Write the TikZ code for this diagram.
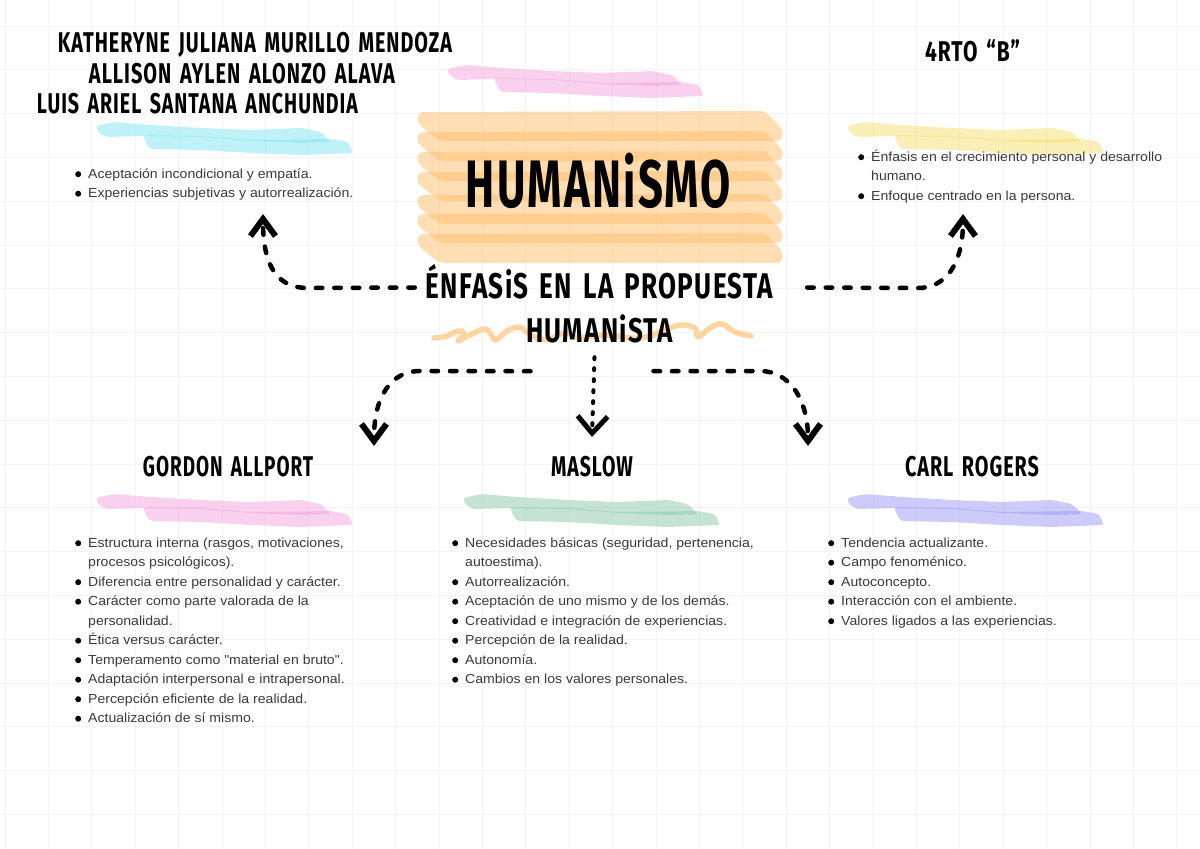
\documentclass[tikz,border=0pt]{standalone}
\usepackage{fontspec}
\usepackage{graphicx}
\usetikzlibrary{arrows.meta,calc}
\newfontfamily\bodyf{Liberation Sans}[FakeStretch=1.07]
\newfontfamily\hand{Fira Sans}[UprightFont=* Bold,LetterSpace=5,WordSpace=1.5]
\newcommand{\fitted}[3]{\resizebox{#1pt}{#2pt}{\hand\fontsize{20}{20}\selectfont\smash{#3}\rule{0pt}{14pt}}}
\newcommand{\bl}{\leavevmode\rule{0pt}{12pt}\llap{\tikz[baseline=-4pt]\fill[black] (0,0) circle [radius=3pt];\hspace{7pt}}}
\newcommand{\nl}{\leavevmode\rule{0pt}{12pt}}
\definecolor{txt}{HTML}{3A3A3A}
\definecolor{gridc}{HTML}{F4F4F4}
\definecolor{cya}{HTML}{7FE6F2}
\definecolor{pnk}{HTML}{F4A3DF}
\definecolor{yel}{HTML}{F5E070}
\definecolor{grn}{HTML}{8CC9AC}
\definecolor{vio}{HTML}{9C98F5}
\definecolor{org}{HTML}{FFC070}
\tikzset{
  title/.style={inner sep=0pt,anchor=base},
  list/.style={inner sep=0pt,anchor=north west,align=left,text=txt,font=\bodyf\fontsize{13.15}{19.5}\selectfont},
  conn/.style={line width=4.5pt,line cap=round,dash pattern=on 6.5pt off 12pt,-{Straight Barb[length=17pt,width=25pt,line width=6pt]}},
  connc/.style={line width=4pt,line cap=round,dash pattern=on 2pt off 9pt,-{Straight Barb[length=17pt,width=30pt,line width=5pt]}},
  stroke/.style={fill=org,fill opacity=.52,rounded corners=5pt}
}
\newcommand{\brush}[3]{\begin{scope}[shift={(#1,#2)},fill=#3,fill opacity=.5,rounded corners=3pt]
\fill (0,4) -- (18,0) -- (55,3) -- (105,6) -- (155,8) -- (205,6) -- (225,10) -- (235,20) -- (205,21) -- (155,19) -- (105,15) -- (48,14) -- (10,15) -- (2,10) -- cycle;
\fill (47,13) -- (105,14) -- (155,18) -- (235,17) -- (252,20) -- (257,31) -- (205,33) -- (155,31) -- (105,28) -- (54,27) -- (50,21) -- cycle;
\end{scope}}
\newcommand{\ostroke}[1]{\fill[stroke,shift={(0,#1)}] (418,112) -- (765,111) -- (783,130) -- (782,141) -- (440,141) -- (417,123) -- cycle;}
\begin{document}
\begin{tikzpicture}[x=1pt,y=-1pt]
\useasboundingbox (0,0) rectangle (1200,849);
\fill[white] (0,0) rectangle (1200,849);
% grid
\foreach \k in {0,...,27} \draw[gridc,line width=1pt] ({5+43.4*\k},0) -- ({5+43.4*\k},849);
\foreach \k in {0,...,18} \draw[gridc,line width=1pt] (0,{26+43.8*\k}) -- (1200,{26+43.8*\k});
% brushes
\brush{447}{65}{pnk}
\brush{96}{122}{cya}
\brush{847}{122}{yel}
\brush{96}{494}{pnk}
\brush{463}{494}{grn}
\brush{847}{494}{vio}
% orange block
\ostroke{0}\ostroke{20}\ostroke{40}\ostroke{60}\ostroke{83}\ostroke{102}\ostroke{122}
% wavy
\draw[org,line width=5.5pt,opacity=.65,line cap=round,line join=round] plot[smooth,tension=.7] coordinates {(434,338) (447,336) (458,331) (464,334) (458,341) (470,335) (485,329) (492,336) (496,340) (507,331) (520,327) (528,333) (545,340) (565,333) (580,338) (605,335) (640,338) (665,330) (680,325) (695,328) (698,337) (710,328) (722,324) (735,332) (751,336)};
% titles
\node[title] (author1) at (255,52) {\fitted{394}{20}{KATHERYNE JULIANA MURILLO MENDOZA}};
\node[title] (author2) at (242,83) {\fitted{306}{20}{ALLISON AYLEN ALONZO ALAVA}};
\node[title] (author3) at (197.5,113) {\fitted{321}{20}{LUIS ARIEL SANTANA ANCHUNDIA}};
\node[title] (grade) at (972.5,61) {\fitted{95}{20}{4RTO “B”}};
\node[title] (main) at (598.5,207) {\fitted{265}{47}{HUMANiSMO}};
\node[title] (enf) at (599.5,298) {\fitted{347}{25}{ÉNFASiS EN LA PROPUESTA}};
\node[title] (hum) at (599.5,342) {\fitted{147}{24}{HUMANiSTA}};
\node[title] (gordon) at (228,476) {\fitted{170}{20}{GORDON ALLPORT}};
\node[title] (maslow) at (592,476) {\fitted{82}{20}{MASLOW}};
\node[title] (carl) at (972,476) {\fitted{134}{20}{CARL ROGERS}};
% lists
\node[list] (listA) at (88,166) {\bl Aceptación incondicional y empatía.\\\bl Experiencias subjetivas y autorrealización.};
\node[list] (listB) at (871,149) {\bl Énfasis en el crecimiento personal y desarrollo\\\nl humano.\\\bl Enfoque centrado en la persona.};
\node[list] (listC) at (88,535) {\bl Estructura interna (rasgos, motivaciones,\\\nl procesos psicológicos).\\\bl Diferencia entre personalidad y carácter.\\\bl Carácter como parte valorada de la\\\nl personalidad.\\\bl Ética versus carácter.\\\bl Temperamento como "material en bruto".\\\bl Adaptación interpersonal e intrapersonal.\\\bl Percepción eficiente de la realidad.\\\bl Actualización de sí mismo.};
\node[list] (listD) at (465,535) {\bl Necesidades básicas (seguridad, pertenencia,\\\nl autoestima).\\\bl Autorrealización.\\\bl Aceptación de uno mismo y de los demás.\\\bl Creatividad e integración de experiencias.\\\bl Percepción de la realidad.\\\bl Autonomía.\\\bl Cambios en los valores personales.};
\node[list] (listE) at (841,535) {\bl Tendencia actualizante.\\\bl Campo fenoménico.\\\bl Autoconcepto.\\\bl Interacción con el ambiente.\\\bl Valores ligados a las experiencias.};
% connectors
\coordinate (tipA) at (263,214);
\coordinate (tipB) at (963,214);
\coordinate (tipC) at (374,446);
\coordinate (tipD) at (592,437);
\coordinate (tipE) at (808,446);
\draw[conn] ([xshift=-11pt,yshift=-2pt]enf.west) -- (308,288) .. controls (280,288) and (263,270) .. (tipA);
\draw[conn] ([xshift=34pt,yshift=-2pt]enf.east) -- (918,288) .. controls (945,288) and (963,265) .. (tipB);
\draw[conn] ([xshift=-69pt,yshift=-29pt]hum.south) -- (420,371) .. controls (392,371) and (374,395) .. (tipC);
\draw[connc] ([xshift=-5pt,yshift=-15pt]hum.south) -- (tipD);
\draw[conn] ([xshift=54pt,yshift=-29pt]hum.south) -- (760,371) .. controls (790,371) and (808,400) .. (tipE);
\end{tikzpicture}
\end{document}
